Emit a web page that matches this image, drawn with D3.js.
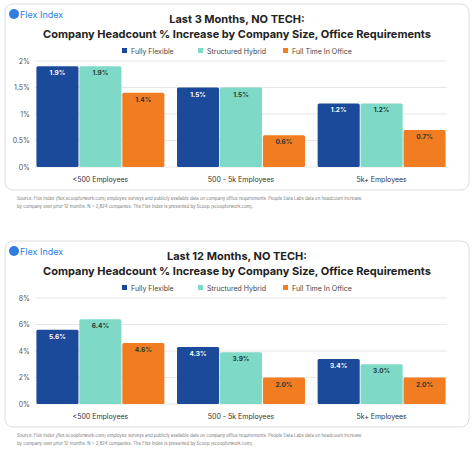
<!DOCTYPE html>
<html><head><meta charset="utf-8">
<script src="https://cdn.jsdelivr.net/npm/d3@7"></script>
<style>body{margin:0;background:#fff}text{font-family:Inter,"Noto Sans",sans-serif}</style>
</head><body>
<script>
const categories = ["<500 Employees", "500 - 5k Employees", "5k+ Employees"];
const series = ["Fully Flexible", "Structured Hybrid", "Full Time In Office"];
const colors = ["#1c4a9a", "#7fd9c7", "#f27c22"];
const values3m = [[1.9, 1.9, 1.4], [1.5, 1.5, 0.6], [1.2, 1.2, 0.7]];
const values12m = [[5.6, 6.4, 4.6], [4.3, 3.9, 2.0], [3.4, 3.0, 2.0]];
const ticks3m = [0, 0.5, 1, 1.5, 2];
const ticks12m = [0, 2, 4, 6, 8];

const svg = d3.select("body").append("svg").attr("width", 474).attr("height", 451);

// draw one card with chart + source note
function drawCard(top, title, values, ticks, fmt, labelFmt) {
    const g = svg.append("g").attr("transform", `translate(0,${top})`);
    g.append("rect").attr("x", 5).attr("y", 0).attr("width", 464).attr("height", 186)
        .attr("rx", 8).attr("fill", "#fff").attr("stroke", "#dcdcdc");
    // logo
    g.append("circle").attr("cx", 14).attr("cy", 10).attr("r", 5).attr("fill", "#2f7de1");
    g.append("text").attr("x", 20).attr("y", 14).attr("font-size", 9).attr("fill", "#2f7de1").text("Flex Index");
    g.append("text").attr("x", 237).attr("y", 19).attr("text-anchor", "middle")
        .attr("font-size", 11).attr("font-weight", "bold").attr("fill", "#222").text(title);
    g.append("text").attr("x", 237).attr("y", 34).attr("text-anchor", "middle")
        .attr("font-size", 11).attr("font-weight", "bold").attr("fill", "#222")
        .text("Company Headcount % Increase by Company Size, Office Requirements");
    // legend
    const lx = [122, 198, 283];
    series.forEach((s, i) => {
        g.append("rect").attr("x", lx[i]).attr("y", 44).attr("width", 5).attr("height", 5).attr("fill", colors[i]);
        g.append("text").attr("x", lx[i] + 9).attr("y", 50).attr("font-size", 7).attr("fill", "#444").text(s);
    });
    const x0 = d3.scaleBand().domain(categories).range([35, 447]).paddingInner(0.09).paddingOuter(0.01);
    const x1 = d3.scaleBand().domain(series).range([0, x0.bandwidth()]).paddingInner(0.02);
    const y = d3.scaleLinear().domain([0, ticks[ticks.length - 1]]).range([163, 57]);
    g.append("g").selectAll("line").data(ticks).join("line")
        .attr("x1", 35).attr("x2", 447).attr("y1", d => y(d)).attr("y2", d => y(d))
        .attr("stroke", "#e6e6e6");
    g.append("g").selectAll("text").data(ticks).join("text")
        .attr("x", 30).attr("y", d => y(d) + 2.5).attr("text-anchor", "end")
        .attr("font-size", 7).attr("fill", "#555").text(fmt);
    const cg = g.append("g").selectAll("g").data(categories).join("g")
        .attr("transform", d => `translate(${x0(d)},0)`);
    cg.selectAll("rect").data((d, i) => values[i].map((v, j) => ({ v, j })))
        .join("rect").attr("x", d => x1(series[d.j])).attr("width", x1.bandwidth())
        .attr("y", d => y(d.v)).attr("height", d => y(0) - y(d.v)).attr("rx", 1.5)
        .attr("fill", d => colors[d.j]);
    cg.selectAll("text").data((d, i) => values[i].map((v, j) => ({ v, j })))
        .join("text").attr("x", d => x1(series[d.j]) + x1.bandwidth() / 2).attr("y", d => y(d.v) + 9)
        .attr("text-anchor", "middle").attr("font-size", 6.5).attr("font-weight", "bold")
        .attr("fill", d => d.j === 0 ? "#fff" : "#1e3a36").text(d => labelFmt(d.v));
    g.append("g").selectAll("text").data(categories).join("text")
        .attr("x", d => x0(d) + x0.bandwidth() / 2).attr("y", 178).attr("text-anchor", "middle")
        .attr("font-size", 7).attr("fill", "#333").text(d => d);
    const src = g.append("text").attr("font-size", 4.3).attr("fill", "#777");
    src.append("tspan").attr("x", 17).attr("y", 196)
        .text("Source: Flex Index (flex.scoopforwork.com) employee surveys and publicly available data on company office requirements. People Data Labs data on headcount increase");
    src.append("tspan").attr("x", 17).attr("y", 204)
        .text("by company over prior 12 months. N = 2,824 companies. The Flex Index is presented by Scoop (scoopforwork.com).");
}

drawCard(4, "Last 3 Months, NO TECH:", values3m, ticks3m, d => d + "%", v => v.toFixed(1) + "%");
drawCard(241, "Last 12 Months, NO TECH:", values12m, ticks12m, d => d + "%", v => v.toFixed(1) + "%");
</script>
</body></html>
